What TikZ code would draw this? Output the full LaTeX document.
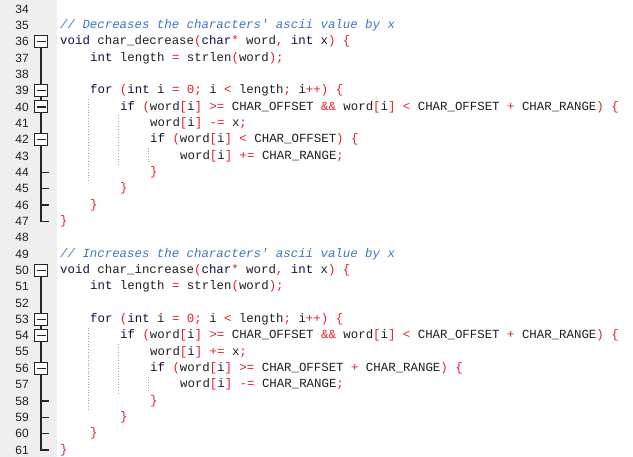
\documentclass[tikz,border=0pt]{standalone}
\usepackage{fontspec}
\setmonofont{Liberation Mono}
\setmainfont{Liberation Sans}
\definecolor{opred}{HTML}{E8202A}
\definecolor{kwblue}{HTML}{101040}
\definecolor{cmblue}{HTML}{3A78C8}
\definecolor{gutter}{HTML}{EFEFEF}
\definecolor{txt}{HTML}{202020}
\newcommand\kw[1]{\textcolor{kwblue}{#1}}
\newcommand\op[1]{\textcolor{opred}{#1}}
\newcommand\cm[1]{\textcolor{cmblue}{\itshape #1}}
\newcommand\lny[1]{-(9+(#1-34)*16.33)}
\tikzset{
  code/.style={anchor=west,inner sep=0pt,font=\ttfamily\fontsize{12.4}{14}\selectfont,text=txt},
  lnum/.style={anchor=east,inner sep=0pt,font=\fontsize{12}{14}\selectfont,text=txt},
  foldbox/.style={draw=black!85,fill=white,line width=1pt,minimum width=13pt,minimum height=12pt,inner sep=0pt},
  guide/.style={draw=black!35,dotted,line width=0.7pt}
}
\begin{document}
\begin{tikzpicture}[x=1pt,y=1pt]
\useasboundingbox (0,0) rectangle (633,-457);
\fill[white] (0,0) rectangle (633,-457);
\fill[gutter] (0,0) rectangle (57,-457);
% line numbers
\foreach \n in {34,...,61}{
  \node[lnum] (n\n) at (29,{\lny{\n}}) {\n};
}
% fold gutter, two functions
\foreach \s in {0,14}{
  \pgfmathsetmacro\a{36+\s}
  \draw[black!85,line width=1.2pt] (41,{\lny{\a}}) -- (41,{\lny{\a+11}}) -- (49,{\lny{\a+11}});
  \foreach \t in {8,9,10}{\draw[black!85,line width=1.2pt] (41,{\lny{\a+\t}}) -- (49,{\lny{\a+\t}});}
  \foreach \t in {0,3,4,6}{
    \node[foldbox] (fb\s-\t) at (41,{\lny{\a+\t}}) {};
    \draw[black!85,line width=1.2pt] ([xshift=2.5pt]fb\s-\t.west) -- ([xshift=-2.5pt]fb\s-\t.east);
  }
  % indent guides
  \draw[guide] (88,{\lny{\a+4}+8}) -- (88,{\lny{\a+9}+8});
  \draw[guide] (118,{\lny{\a+5}+8}) -- (118,{\lny{\a+8}+8});
  \draw[guide] (148,{\lny{\a+7}+8}) -- (148,{\lny{\a+7}-8});
}
% code
\node[code] (c35) at (60,{\lny{35}}) {\cm{// Decreases the characters' ascii value by x}};
\node[code] (c36) at (60,{\lny{36}}) {\kw{void} char\_decrease\op{(}\kw{char}\op{*} word\op{,} \kw{int} x\op{)} \op{\{}};
\node[code] (c37) at (90,{\lny{37}}) {\kw{int} length \op{=} strlen\op{(}word\op{);}};
\node[code] (c39) at (90,{\lny{39}}) {\kw{for} \op{(}\kw{int} i \op{=} \op{0;} i \op{<} length\op{;} i\op{++)} \op{\{}};
\node[code] (c40) at (120,{\lny{40}}) {\kw{if} \op{(}word\op{[}i\op{]} \op{>=} CHAR\_OFFSET \op{\&\&} word\op{[}i\op{]} \op{<} CHAR\_OFFSET \op{+} CHAR\_RANGE\op{)} \op{\{}};
\node[code] (c41) at (150,{\lny{41}}) {word\op{[}i\op{]} \op{-=} x\op{;}};
\node[code] (c42) at (150,{\lny{42}}) {\kw{if} \op{(}word\op{[}i\op{]} \op{<} CHAR\_OFFSET\op{)} \op{\{}};
\node[code] (c43) at (180,{\lny{43}}) {word\op{[}i\op{]} \op{+=} CHAR\_RANGE\op{;}};
\node[code] (c44) at (150,{\lny{44}}) {\op{\}}};
\node[code] (c45) at (120,{\lny{45}}) {\op{\}}};
\node[code] (c46) at (90,{\lny{46}}) {\op{\}}};
\node[code] (c47) at (60,{\lny{47}}) {\op{\}}};
\node[code] (c49) at (60,{\lny{49}}) {\cm{// Increases the characters' ascii value by x}};
\node[code] (c50) at (60,{\lny{50}}) {\kw{void} char\_increase\op{(}\kw{char}\op{*} word\op{,} \kw{int} x\op{)} \op{\{}};
\node[code] (c51) at (90,{\lny{51}}) {\kw{int} length \op{=} strlen\op{(}word\op{);}};
\node[code] (c53) at (90,{\lny{53}}) {\kw{for} \op{(}\kw{int} i \op{=} \op{0;} i \op{<} length\op{;} i\op{++)} \op{\{}};
\node[code] (c54) at (120,{\lny{54}}) {\kw{if} \op{(}word\op{[}i\op{]} \op{>=} CHAR\_OFFSET \op{\&\&} word\op{[}i\op{]} \op{<} CHAR\_OFFSET \op{+} CHAR\_RANGE\op{)} \op{\{}};
\node[code] (c55) at (150,{\lny{55}}) {word\op{[}i\op{]} \op{+=} x\op{;}};
\node[code] (c56) at (150,{\lny{56}}) {\kw{if} \op{(}word\op{[}i\op{]} \op{>=} CHAR\_OFFSET \op{+} CHAR\_RANGE\op{)} \op{\{}};
\node[code] (c57) at (180,{\lny{57}}) {word\op{[}i\op{]} \op{-=} CHAR\_RANGE\op{;}};
\node[code] (c58) at (150,{\lny{58}}) {\op{\}}};
\node[code] (c59) at (120,{\lny{59}}) {\op{\}}};
\node[code] (c60) at (90,{\lny{60}}) {\op{\}}};
\node[code] (c61) at (60,{\lny{61}}) {\op{\}}};
\end{tikzpicture}
\end{document}
